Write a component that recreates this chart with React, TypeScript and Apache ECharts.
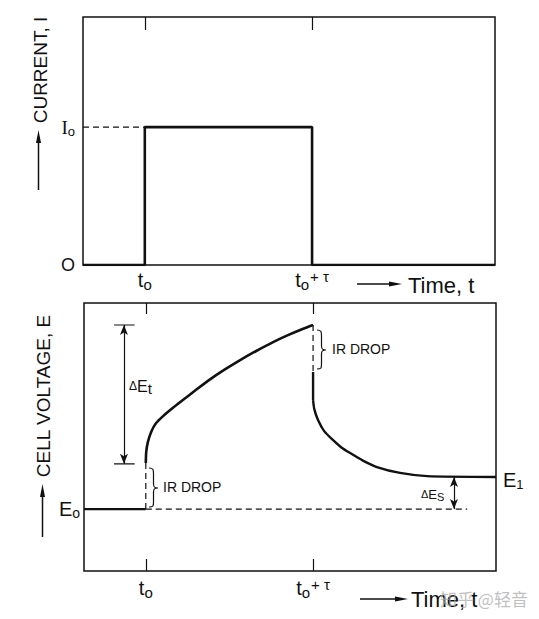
import React, { useEffect, useRef } from "react";
import * as echarts from "echarts";

// ---------- data ----------
const timeTicks = [15, 55.6]; // t0, t0+tau (x axis 0..100)
const currentTicks = [0, 55.6]; // O, I0
const currentTime = [0, 15, 15, 55.6, 55.6, 100];
const currentValue = [0, 0, 55.6, 55.6, 0, 0];

const voltageTicks = [23.1]; // E0
const restTime = [0, 15];
const restVoltage = [23.1, 23.1];
const pulseTime = [15, 15.1, 15.5, 16.3, 17.5, 19.2, 21.6, 24.0, 27.2, 30.6, 34.2, 37.9, 41.7, 45.9, 49.5, 53.2, 55.6];
const pulseVoltage = [40.3, 44.4, 48.1, 51.9, 55.2, 57.8, 60.9, 63.8, 67.6, 71.5, 75.2, 78.7, 82.0, 85.4, 88.0, 90.4, 91.8];
const dropTime = [55.6, 55.6];
const dropVoltage = [74.3, 63.8];
const relaxTime = [55.6, 55.9, 56.8, 58.3, 60.4, 62.4, 64.6, 67.7, 71.1, 76.7, 83.3, 100];
const relaxVoltage = [63.8, 60.4, 56.3, 52.2, 48.9, 46.2, 44.0, 41.2, 38.8, 36.6, 35.4, 35.1];
const irDropStartTime = [15, 15];
const irDropStartVoltage = [23.1, 40.3];
const irDropEndTime = [55.6, 55.6];
const irDropEndVoltage = [91.8, 74.3];
const baselineTime = [15, 93];
const baselineVoltage = [23.1, 23.1];
const deltaEtTime = 9.7;
const deltaEtRange = [40.0, 91.8];
const deltaEtCap = [7.3, 12.3];
const deltaEsTime = 89.8;
const deltaEsRange = [35.1, 23.1];

const zip = (a: number[], b: number[]) => a.map((v, i) => [v, b[i]]);

const INK = "#111";
const FONT = "Liberation Sans";

const braceD =
  "M0,0 C4.5,0 4.5,2 4.5,6 L4.5,16 C4.5,19 5.5,20 9,20 C5.5,20 4.5,21 4.5,24 L4.5,34 C4.5,38 4.5,39 0,39";
echarts.graphic.registerShape("brace", echarts.graphic.extendPath(braceD, {}) as any);

const timeLabelRich = {
  t: { fontSize: 20, fontFamily: FONT, color: INK, lineHeight: 24, verticalAlign: "middle" },
  s: { fontSize: 15, fontFamily: FONT, color: INK, lineHeight: 24, verticalAlign: "bottom", padding: [0, 0, 0, 0] },
  p: { fontSize: 15, fontFamily: FONT, color: INK, lineHeight: 24, verticalAlign: "top", padding: [1, 0, 0, 1] },
};
const timeFormatter = (v: number) => (v === timeTicks[0] ? "{t|t}{s|o}" : "{t|t}{s|o}{p|+ τ}");

const lineSeries = (
  x: number,
  y: number,
  data: number[][],
  width: number,
  dashed = false,
  smooth: number | boolean = false
) => ({
  type: "line",
  xAxisIndex: x,
  yAxisIndex: y,
  data,
  symbol: "none",
  smooth,
  silent: true,
  lineStyle: { color: INK, width, type: dashed ? [6, 4] : "solid" },
  z: 3,
});

export default function App() {
  const ref = useRef<HTMLDivElement>(null);
  useEffect(() => {
    if (!ref.current) return;
    const chart = echarts.init(ref.current, undefined, { renderer: "svg" });
    const hiddenAxis = {
      type: "value",
      min: 0,
      max: 100,
      axisLine: { show: false },
      splitLine: { show: false },
    };
    const option: any = {
      animation: false,
      backgroundColor: "#fff",
      grid: [
        { left: 83, top: 17, width: 412, height: 248, show: true, borderColor: INK, borderWidth: 1.5 },
        { left: 84, top: 303, width: 412, height: 268, show: true, borderColor: INK, borderWidth: 1.5 },
      ],
      xAxis: [
        {
          ...hiddenAxis,
          gridIndex: 0,
          position: "bottom",
          axisTick: { show: false },
          axisLabel: { customValues: timeTicks, formatter: timeFormatter, rich: timeLabelRich, margin: 3 },
        },
        {
          ...hiddenAxis,
          gridIndex: 0,
          position: "top",
          axisTick: { show: true, inside: true, length: 13, customValues: timeTicks, lineStyle: { color: INK, width: 1.2 } },
          axisLabel: { show: false },
        },
        {
          ...hiddenAxis,
          gridIndex: 1,
          position: "bottom",
          axisTick: { show: true, inside: true, length: 12, customValues: timeTicks, lineStyle: { color: INK, width: 1.2 } },
          axisLabel: { customValues: timeTicks, formatter: timeFormatter, rich: timeLabelRich, margin: 5 },
        },
        {
          ...hiddenAxis,
          gridIndex: 1,
          position: "top",
          axisTick: { show: true, inside: true, length: 11, customValues: timeTicks, lineStyle: { color: INK, width: 1.2 } },
          axisLabel: { show: false },
        },
      ],
      yAxis: [
        {
          ...hiddenAxis,
          gridIndex: 0,
          axisTick: { show: false },
          axisLabel: {
            customValues: currentTicks,
            margin: 8,
            formatter: (v: number) => (v === 0 ? "{o|O}" : "{i|I}{s|o}"),
            rich: {
              o: { fontSize: 18, fontFamily: FONT, color: INK },
              i: { fontSize: 19, fontFamily: "Liberation Serif", color: INK, lineHeight: 22, verticalAlign: "middle" },
              s: { fontSize: 13, fontFamily: FONT, color: INK, lineHeight: 22, verticalAlign: "bottom" },
            },
          },
        },
        {
          ...hiddenAxis,
          gridIndex: 1,
          axisTick: { show: false },
          axisLabel: {
            customValues: voltageTicks,
            margin: 4,
            formatter: () => "{e|E}{s|o}",
            rich: {
              e: { fontSize: 20, fontFamily: FONT, color: INK, lineHeight: 22, verticalAlign: "middle" },
              s: { fontSize: 14, fontFamily: FONT, color: INK, lineHeight: 22, verticalAlign: "bottom" },
            },
          },
        },
      ],
      series: [
        lineSeries(0, 0, zip(currentTime, currentValue), 2.6),
        lineSeries(0, 0, [[0, currentTicks[1]], [timeTicks[0], currentTicks[1]]], 1.2, true),
        lineSeries(2, 1, zip(restTime, restVoltage), 2.2),
        lineSeries(2, 1, zip(pulseTime, pulseVoltage), 2.6, false, 0.2),
        lineSeries(2, 1, zip(dropTime, dropVoltage), 2.4),
        lineSeries(2, 1, zip(relaxTime, relaxVoltage), 2.4, false, 0.2),
        lineSeries(2, 1, zip(irDropStartTime, irDropStartVoltage), 1.2, true),
        lineSeries(2, 1, zip(irDropEndTime, irDropEndVoltage), 1.2, true),
        lineSeries(2, 1, zip(baselineTime, baselineVoltage), 1.2, true),
        lineSeries(2, 1, [[deltaEtCap[0], deltaEtRange[1]], [deltaEtCap[1], deltaEtRange[1]]], 1.2),
        lineSeries(2, 1, [[deltaEtCap[0], deltaEtRange[0]], [deltaEtCap[1], deltaEtRange[0]]], 1.2),
        {
          type: "line",
          xAxisIndex: 2,
          yAxisIndex: 1,
          data: [],
          markLine: {
            silent: true,
            animation: false,
            symbol: ["arrow", "arrow"],
            symbolSize: [6, 10],
            label: { show: false },
            lineStyle: { color: INK, width: 1.2, type: "solid" },
            emphasis: { disabled: true },
            data: [
              [{ coord: [deltaEtTime, deltaEtRange[0]] }, { coord: [deltaEtTime, deltaEtRange[1]] }],
              [{ coord: [deltaEsTime, deltaEsRange[0]] }, { coord: [deltaEsTime, deltaEsRange[1]] }],
            ],
          },
        },
      ],
      graphic: [
        { type: "text", x: 40, y: 70, rotation: Math.PI / 2, style: { text: "CURRENT, I", font: `19px ${FONT}`, fill: INK, align: "center", verticalAlign: "middle" } },
        { type: "line", shape: { x1: 38.5, y1: 190, x2: 38.5, y2: 140 }, style: { stroke: INK, lineWidth: 1.5 } },
        { type: "polygon", shape: { points: [[38.5, 130], [36, 143], [41, 143]] }, style: { fill: INK } },
        { type: "text", x: 43, y: 396, rotation: Math.PI / 2, style: { text: "CELL VOLTAGE, E", font: `19px ${FONT}`, fill: INK, align: "center", verticalAlign: "middle" } },
        { type: "line", shape: { x1: 42.5, y1: 537, x2: 42.5, y2: 494 }, style: { stroke: INK, lineWidth: 1.5 } },
        { type: "polygon", shape: { points: [[42.5, 484], [40, 497], [45, 497]] }, style: { fill: INK } },
        // time arrows
        { type: "line", shape: { x1: 357, y1: 284, x2: 392, y2: 284 }, style: { stroke: INK, lineWidth: 1.5 } },
        { type: "polygon", shape: { points: [[402, 284], [389, 281.5], [389, 286.5]] }, style: { fill: INK } },
        { type: "text", x: 408, y: 285, style: { text: "Time, t", font: `22px ${FONT}`, fill: INK, verticalAlign: "middle" } },
        { type: "line", shape: { x1: 360, y1: 599, x2: 397, y2: 599 }, style: { stroke: INK, lineWidth: 1.5 } },
        { type: "polygon", shape: { points: [[408, 599], [395, 596.5], [395, 601.5]] }, style: { fill: INK } },
        { type: "text", x: 411, y: 599, style: { text: "Time, t", font: `22px ${FONT}`, fill: INK, verticalAlign: "middle" } },
        // annotations
        { type: "brace", x: 149, y: 468, style: { stroke: INK, fill: "none", lineWidth: 1.2 } },
        { type: "text", x: 163, y: 487, style: { text: "IR DROP", font: `14px ${FONT}`, fill: INK, verticalAlign: "middle" } },
        { type: "brace", x: 317, y: 330, style: { stroke: INK, fill: "none", lineWidth: 1.2 } },
        { type: "text", x: 332, y: 349, style: { text: "IR DROP", font: `14px ${FONT}`, fill: INK, verticalAlign: "middle" } },
        {
          type: "text",
          x: 129,
          y: 386,
          style: {
            text: "{d|Δ}{e|E}{s|t}",
            verticalAlign: "middle",
            rich: {
              d: { fontSize: 12, fontFamily: FONT, fill: INK, lineHeight: 20, verticalAlign: "middle" },
              e: { fontSize: 16, fontFamily: FONT, fill: INK, lineHeight: 20, verticalAlign: "middle" },
              s: { fontSize: 15, fontFamily: FONT, fill: INK, lineHeight: 20, verticalAlign: "bottom" },
            },
          },
        },
        {
          type: "text",
          x: 421,
          y: 494,
          style: {
            text: "{d|Δ}{e|E}{s|S}",
            verticalAlign: "middle",
            rich: {
              d: { fontSize: 11, fontFamily: FONT, fill: INK, lineHeight: 16, verticalAlign: "middle" },
              e: { fontSize: 13, fontFamily: FONT, fill: INK, lineHeight: 16, verticalAlign: "middle" },
              s: { fontSize: 11, fontFamily: FONT, fill: INK, lineHeight: 16, verticalAlign: "bottom" },
            },
          },
        },
        {
          type: "text",
          x: 503,
          y: 480,
          style: {
            text: "{e|E}{s|1}",
            verticalAlign: "middle",
            rich: {
              e: { fontSize: 20, fontFamily: FONT, fill: INK, lineHeight: 22, verticalAlign: "middle" },
              s: { fontSize: 13, fontFamily: FONT, fill: INK, lineHeight: 22, verticalAlign: "bottom" },
            },
          },
        },
        {
          type: "text",
          x: 440,
          y: 598,
          z: 100,
          style: { text: "知乎 @轻音", font: `17px "Noto Sans CJK SC"`, fill: "rgba(170,170,170,0.75)", verticalAlign: "middle" },
        },
      ],
    };
    chart.setOption(option);
    return () => chart.dispose();
  }, []);
  return <div ref={ref} style={{ position: "absolute", left: 0, top: 0, width: 539, height: 619 }} />;
}
